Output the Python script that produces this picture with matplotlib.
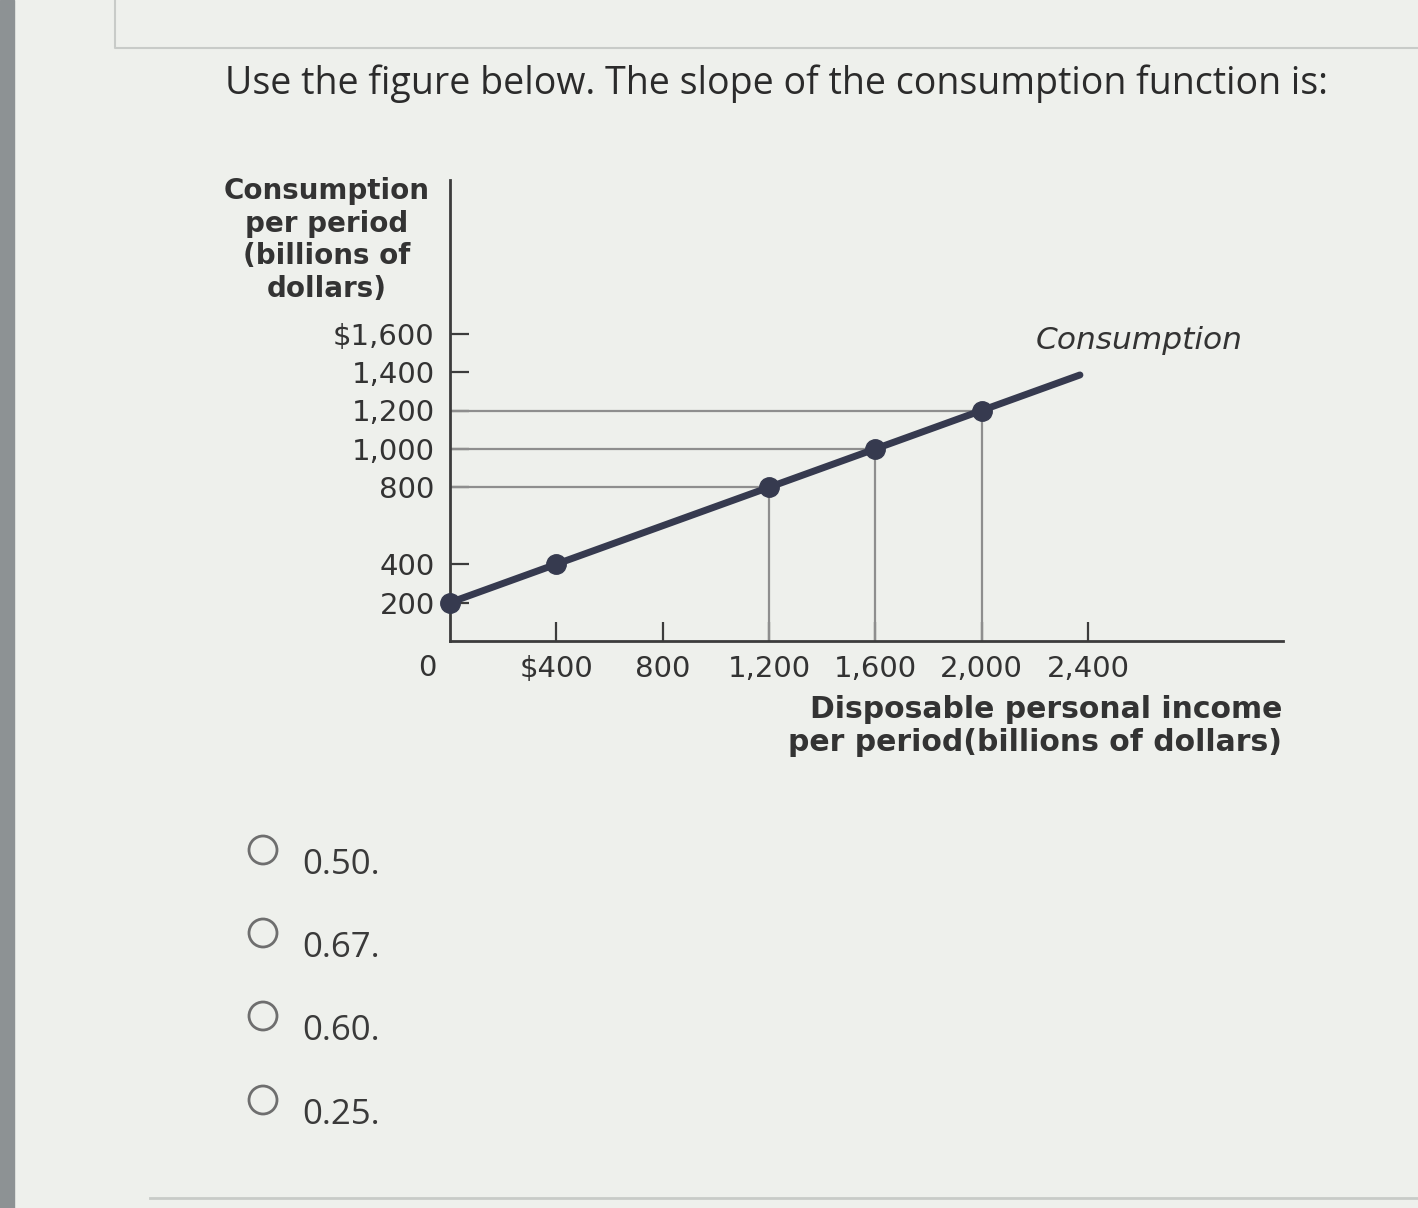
import matplotlib.pyplot as plt
from matplotlib.patches import Circle, Rectangle

# data (billions of dollars)
income_pts = [0, 400, 1200, 1600, 2000]
consumption_pts = [200, 400, 800, 1000, 1200]
line_income = [0, 400, 1200, 1600, 2000, 2370]
line_consumption = [200, 400, 800, 1000, 1200, 1385]
guide_income = [1200, 1600, 2000]
guide_consumption = [800, 1000, 1200]

x_ticks = [400, 800, 1200, 1600, 2000, 2400]
x_labels = ['$400', '800', '1,200', '1,600', '2,000', '2,400']
y_ticks = [200, 400, 800, 1000, 1200, 1400, 1600]
y_labels = ['200', '400', '800', '1,000', '1,200', '1,400', '$1,600']

question = 'Use the figure below. The slope of the consumption function is:'
options = ['0.50.', '0.67.', '0.60.', '0.25.']

W, H = 1418, 1208
fig = plt.figure(figsize=(W / 100, H / 100), dpi=100)
fig.patch.set_facecolor('#eef0ec')

# page layer in pixel coordinates
bg = fig.add_axes([0, 0, 1, 1])
bg.set_xlim(0, W)
bg.set_ylim(H, 0)
bg.axis('off')
bg.add_patch(Rectangle((0, 0), 14, H, color='#8d9294'))
bg.plot([115, 115, W], [0, 48, 48], color='#c8cbc8', lw=1.5)
bg.plot([150, W], [1198, 1198], color='#c8cbc8', lw=2)

bg.text(225, 84, question, fontsize=27, family='Open Sans', color='#2b2b2b',
        va='center', ha='left')

opt_y = [850, 933, 1016, 1100]
for yy, lab in zip(opt_y, options):
    bg.add_patch(Circle((263, yy), 14, fill=False, ec='#6e6e6e', lw=2))
    bg.text(302, yy + 15, lab, fontsize=25, family='Open Sans', color='#3a3a3a',
            va='center', ha='left')

# chart
ax = fig.add_axes([450 / W, 1 - 641 / H, 833 / W, 461 / H])
ax.patch.set_alpha(0)
ax.set_xlim(0, 3134)
ax.set_ylim(0, 2400)
for s in ['top', 'right']:
    ax.spines[s].set_visible(False)
for s in ['left', 'bottom']:
    ax.spines[s].set_color('#3c3c3c')
    ax.spines[s].set_linewidth(2)

line_col = '#363a4f'
guide_col = '#8e8e8e'
for gx, gy in zip(guide_income, guide_consumption):
    ax.plot([0, gx], [gy, gy], color=guide_col, lw=1.6, zorder=2)
    ax.plot([gx, gx], [0, gy], color=guide_col, lw=1.6, zorder=2)

ax.plot(line_income, line_consumption, color=line_col, lw=5, solid_capstyle='round', zorder=3)
ax.plot(income_pts, consumption_pts, 'o', color=line_col, ms=14, zorder=4, clip_on=False)

ax.set_xticks(x_ticks)
ax.set_xticklabels(x_labels)
ax.set_yticks(y_ticks)
ax.set_yticklabels(y_labels)
ax.tick_params(axis='both', direction='in', length=14, width=1.6, color='#3c3c3c',
               labelsize=21, labelcolor='#333333')
ax.tick_params(axis='x', pad=10)
ax.tick_params(axis='y', pad=11)

# origin label sits on the x tick-label row, left of the axis
ax.text(-87, -140, '0', fontsize=21, color='#333333', ha='center', va='center')

ax.text(0.952, 0.651, 'Consumption', transform=ax.transAxes, fontsize=22.5,
        style='italic', color='#333333', ha='right', va='center')

fig.text(327 / W, 1 - 240 / H, 'Consumption\nper period\n(billions of\ndollars)',
         fontsize=20, fontweight='bold', color='#333333', ha='center', va='center',
         linespacing=1.2)
fig.text(1282 / W, 1 - 726 / H, 'Disposable personal income\nper period(billions of dollars)',
         fontsize=21.5, fontweight='bold', color='#333333', ha='right', va='center',
         linespacing=1.15, multialignment='right')

fig.savefig('out.png', dpi=100, facecolor=fig.get_facecolor())
